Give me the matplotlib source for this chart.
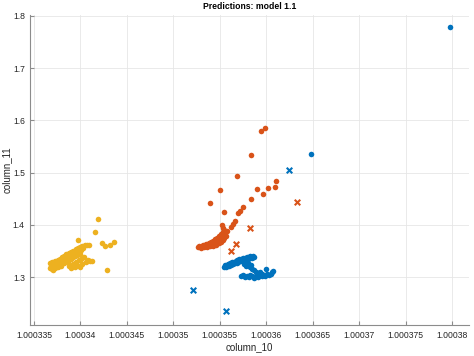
import matplotlib
matplotlib.use("Agg")
import matplotlib.pyplot as plt

plt.rcParams.update({
    "font.family": ["Liberation Sans", "DejaVu Sans"],
    "font.size": 6,
})

BLUE = "#0072BD"
ORANGE = "#D95319"
YELLOW = "#EDB120"

# yellow group (dots)
yellow_x = [1.0003367, 1.0003367, 1.0003368, 1.0003369, 1.0003369, 1.000337, 1.000337, 1.0003371,
            1.0003371, 1.0003372, 1.0003373, 1.0003373, 1.0003374, 1.0003375, 1.0003375, 1.0003376,
            1.0003376, 1.0003377, 1.0003378, 1.0003378, 1.0003379, 1.000338, 1.000338, 1.0003381,
            1.0003382, 1.0003382, 1.0003383, 1.0003384, 1.0003384, 1.0003385, 1.0003386, 1.0003386,
            1.0003387, 1.0003388, 1.0003388, 1.0003389, 1.000339, 1.000339, 1.0003391, 1.0003392,
            1.0003392, 1.0003393, 1.0003394, 1.0003395, 1.0003395, 1.0003396, 1.0003397, 1.0003398,
            1.0003399, 1.00034, 1.0003401, 1.0003402, 1.0003403,
            1.0003388, 1.000339, 1.0003392, 1.0003394, 1.0003395, 1.0003396, 1.0003398, 1.0003399,
            1.0003401, 1.0003402, 1.0003404, 1.0003406, 1.0003408, 1.000341,
            1.0003397, 1.0003405, 1.0003407, 1.0003409, 1.0003412, 1.0003416, 1.0003419, 1.0003423,
            1.0003426, 1.0003428, 1.0003432, 1.0003436]
yellow_y = [1.318, 1.326, 1.322, 1.329, 1.316, 1.314, 1.324, 1.320,
            1.327, 1.322, 1.318, 1.330, 1.325, 1.321, 1.328, 1.332,
            1.319, 1.326, 1.330, 1.335, 1.322, 1.328, 1.338, 1.333,
            1.326, 1.341, 1.336, 1.330, 1.344, 1.339, 1.334, 1.342,
            1.328, 1.337, 1.346, 1.341, 1.335, 1.348, 1.343, 1.338,
            1.350, 1.345, 1.340, 1.353, 1.347, 1.342, 1.356, 1.350,
            1.345, 1.358, 1.352, 1.360, 1.355,
            1.322, 1.318, 1.325, 1.320, 1.328, 1.323, 1.332, 1.320,
            1.335, 1.324, 1.338, 1.329, 1.332, 1.330,
            1.370, 1.362, 1.362, 1.362, 1.331, 1.386, 1.412, 1.365,
            1.359, 1.314, 1.362, 1.368]

# orange group (dots)
orange_x = [1.0003527, 1.0003528, 1.000353, 1.0003531, 1.0003532, 1.0003533, 1.0003534, 1.0003535,
            1.0003536, 1.0003537, 1.0003538, 1.0003539, 1.000354, 1.000354, 1.0003541, 1.0003542,
            1.0003543, 1.0003543, 1.0003544, 1.0003545, 1.0003545, 1.0003546, 1.0003547, 1.0003547,
            1.0003548, 1.0003549, 1.0003549, 1.000355, 1.0003551, 1.0003551, 1.0003552, 1.0003553,
            1.0003553, 1.0003554, 1.0003555, 1.0003555, 1.0003556, 1.0003557, 1.0003552, 1.0003553,
            1.0003558,
            1.0003554, 1.0003562, 1.0003564, 1.0003566, 1.000357, 1.0003572, 1.0003575, 1.0003584,
            1.000359, 1.0003597, 1.0003602, 1.0003609, 1.000361, 1.0003539, 1.000355, 1.0003568,
            1.0003584, 1.0003594, 1.0003599]
orange_y = [1.357, 1.360, 1.356, 1.359, 1.362, 1.357, 1.360, 1.363,
            1.358, 1.361, 1.365, 1.360, 1.363, 1.367, 1.362, 1.366,
            1.360, 1.369, 1.364, 1.368, 1.372, 1.362, 1.366, 1.375,
            1.370, 1.365, 1.378, 1.373, 1.368, 1.382, 1.376, 1.371,
            1.386, 1.380, 1.375, 1.390, 1.384, 1.379, 1.400, 1.393,
            1.388,
            1.424, 1.396, 1.401, 1.407, 1.422, 1.426, 1.435, 1.449,
            1.468, 1.459, 1.470, 1.473, 1.484, 1.442, 1.466, 1.494,
            1.534, 1.579, 1.586]
orange_mis_x = [1.0003633, 1.0003583, 1.0003567, 1.0003562]
orange_mis_y = [1.4435, 1.394, 1.3635, 1.350]

# blue group (dots)
blue_x = [1.0003555, 1.0003556, 1.0003557, 1.0003558, 1.0003559, 1.000356, 1.0003561, 1.0003562,
          1.0003563, 1.0003564, 1.0003565, 1.0003566, 1.0003567, 1.0003568, 1.0003569, 1.000357,
          1.0003571, 1.0003572, 1.0003573, 1.0003574, 1.0003575, 1.0003576, 1.0003577, 1.0003578,
          1.0003579, 1.000358, 1.0003581, 1.0003582, 1.0003583, 1.0003585, 1.0003586, 1.0003587,
          1.0003576, 1.0003578, 1.000358, 1.0003582, 1.0003584, 1.0003585, 1.0003587, 1.0003589,
          1.0003591, 1.0003593, 1.0003595, 1.00036,
          1.0003573, 1.0003575, 1.0003577, 1.0003579, 1.0003581, 1.0003583, 1.0003585, 1.0003587,
          1.0003589, 1.0003591, 1.0003593, 1.0003595, 1.0003597, 1.0003599, 1.0003601, 1.0003603,
          1.0003605, 1.0003606, 1.0003607,
          1.0003648, 1.0003798]
blue_y = [1.320, 1.323, 1.319, 1.322, 1.325, 1.321, 1.326, 1.323,
          1.328, 1.324, 1.329, 1.326, 1.331, 1.327, 1.332, 1.328,
          1.334, 1.330, 1.335, 1.331, 1.336, 1.333, 1.337, 1.334,
          1.338, 1.335, 1.339, 1.336, 1.340, 1.337, 1.341, 1.338,
          1.325, 1.322, 1.326, 1.319, 1.323, 1.316, 1.313, 1.310,
          1.307, 1.309, 1.305, 1.316,
          1.301, 1.303, 1.300, 1.302, 1.300, 1.303, 1.301, 1.299,
          1.302, 1.300, 1.303, 1.301, 1.304, 1.302, 1.305, 1.303,
          1.306, 1.309, 1.312,
          1.535, 1.779]
blue_mis_x = [1.0003624, 1.0003521, 1.0003557]
blue_mis_y = [1.505, 1.2756, 1.2346]

xticks = [1.000335, 1.00034, 1.000345, 1.00035, 1.000355, 1.00036,
          1.000365, 1.00037, 1.000375, 1.00038]
xtick_labels = ["1.000335", "1.00034", "1.000345", "1.00035", "1.000355", "1.00036",
                "1.000365", "1.00037", "1.000375", "1.00038"]
yticks = [1.3, 1.4, 1.5, 1.6, 1.7, 1.8]

fig = plt.figure(figsize=(4.74, 3.56), dpi=100)
ax = fig.add_axes([0.064, 0.087, 0.925, 0.871])

ax.scatter(blue_x, blue_y, s=16, color=BLUE, linewidths=0, zorder=3)
ax.scatter(orange_x, orange_y, s=16, color=ORANGE, linewidths=0, zorder=3)
ax.scatter(yellow_x, yellow_y, s=16, color=YELLOW, linewidths=0, zorder=3)
ax.scatter(blue_mis_x, blue_mis_y, s=16, marker="x", color=BLUE, linewidths=1.5, zorder=4)
ax.scatter(orange_mis_x, orange_mis_y, s=16, marker="x", color=ORANGE, linewidths=1.5, zorder=4)

ax.set_xlim(1.0003346, 1.0003818)
ax.set_ylim(1.208, 1.802)
ax.set_xticks(xticks)
ax.set_xticklabels(xtick_labels)
ax.set_yticks(yticks)
ax.set_yticklabels([f"{v:.1f}" for v in yticks])

ax.grid(True, color="#e6e6e6", linewidth=0.6)
ax.set_axisbelow(True)
for side in ["top", "right"]:
    ax.spines[side].set_visible(False)
for side in ["left", "bottom"]:
    ax.spines[side].set_color("#8c8c8c")
    ax.spines[side].set_linewidth(0.8)
ax.tick_params(direction="in", length=3, color="#8c8c8c", labelcolor="#262626",
               labelsize=6.2, pad=4)

ax.set_xlabel("column_10", fontsize=7, color="#262626", labelpad=2)
ax.set_ylabel("column_11", fontsize=7, color="#262626")
ax.yaxis.set_label_coords(-0.042, 0.5)
ax.set_title("Predictions: model 1.1", fontsize=6.2, fontweight="bold", pad=4)

fig.savefig("out.png", dpi=100)
